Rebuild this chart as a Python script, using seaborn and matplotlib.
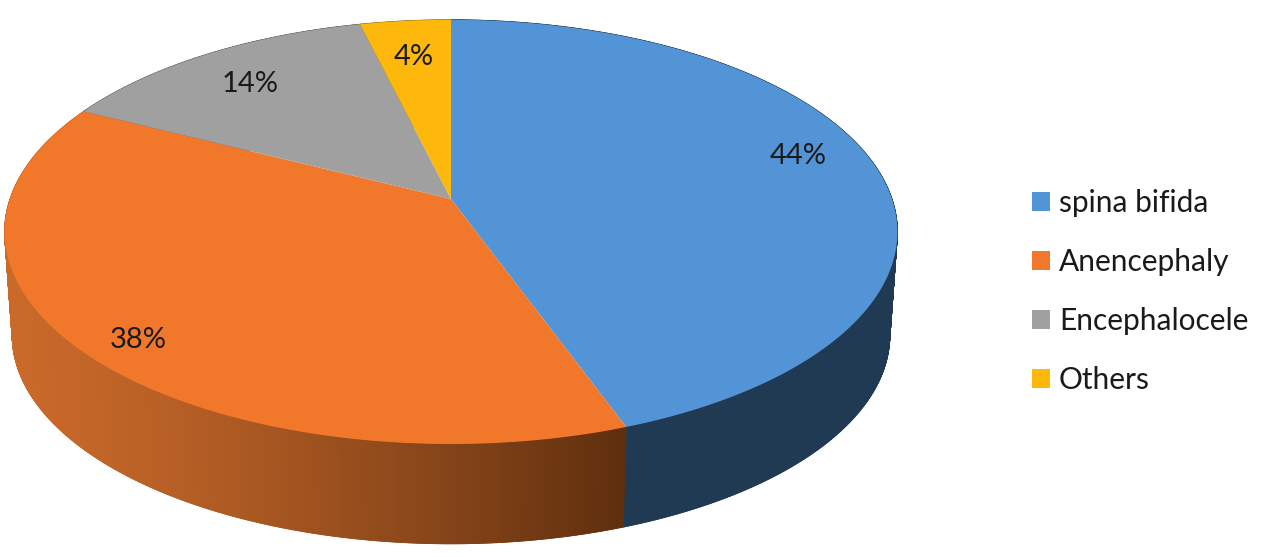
import numpy as np
import matplotlib
matplotlib.use('Agg')
import matplotlib.pyplot as plt
from matplotlib.patches import Patch
from matplotlib.colors import to_rgb
import seaborn as sns

# slice shares, printed labels are these rounded
categories = ['spina bifida', 'Anencephaly', 'Encephalocele', 'Others']
shares = [44.49, 38.0, 13.7, 3.81]
colors = ['#5294d6', '#f1772b', '#a0a0a0', '#fdb80b']
label_xy = [(798, 156), (138, 340), (250, 84), (414, 57)]

# pie geometry in image pixels
CX, CY = 451, 199
RX, RY = 441, 207
PERSP = 0.155
DEPTH = 104
BOTTOM_SCALE = 0.983

BLUE_SIDE = '#1f3a52'
ORANGE_SIDE_LEFT = '#c9692a'
ORANGE_SIDE_RIGHT = '#5f2f0e'
GRAY_SIDE = '#606060'
YELLOW_SIDE = '#987006'


def project(theta, bottom=False):
    # theta clockwise from 12 o'clock, circle -> perspective ellipse
    u, v = np.sin(theta), np.cos(theta)
    s = 1 / (1 + PERSP * v)
    if bottom:
        return CX + RX * u * s * BOTTOM_SCALE, CY + DEPTH - RY * v * s * BOTTOM_SCALE
    return CX + RX * u * s, CY - RY * v * s


def side_color(i, x):
    if i == 0:
        return BLUE_SIDE
    if i == 2:
        return GRAY_SIDE
    if i == 3:
        return YELLOW_SIDE
    t = np.clip((x - 10) / 613, 0, 1)
    a, b = np.array(to_rgb(ORANGE_SIDE_LEFT)), np.array(to_rgb(ORANGE_SIDE_RIGHT))
    return tuple(a + (b - a) * t ** 1.3)


sns.set_theme(style='white', font='Lato')
palette = sns.color_palette(colors)

fig, ax = plt.subplots(figsize=(12.8, 5.57), dpi=100)
fig.subplots_adjust(0, 0, 1, 1)
ax.set_xlim(0, 1280)
ax.set_ylim(557, 0)
ax.axis('off')

edges = np.radians(np.concatenate([[0], np.cumsum(shares)]) * 3.6)

# side wall as thin strips, top face covers the hidden ones
for i in range(len(shares)):
    th = np.arange(edges[i], edges[i + 1] + 0.004, 0.004)
    th[-1] = min(th[-1], edges[i + 1])
    for a, b in zip(th[:-1], th[1:]):
        xt0, yt0 = project(a)
        xt1, yt1 = project(b + 0.002)
        xb0, yb0 = project(a, True)
        xb1, yb1 = project(b + 0.002, True)
        ax.fill([xt0, xt1, xb1, xb0], [yt0, yt1, yb1, yb0],
                color=side_color(i, (xt0 + xt1) / 2), lw=0.6, zorder=2)

# top face
for i, color in enumerate(palette):
    th = np.linspace(edges[i], edges[i + 1], 300)
    xs, ys = project(th)
    ax.fill(np.r_[CX, xs], np.r_[CY, ys], color=color, lw=0, zorder=3)

for share, (x, y) in zip(shares, label_xy):
    ax.text(x, y, f'{share:.0f}%', ha='center', va='center', fontsize=21,
            color='#1a1a1a', zorder=4)

handles = [Patch(facecolor=c, edgecolor='none') for c in palette]
ax.legend(handles, categories, loc='center left', bbox_to_anchor=(1032 / 1280, 1 - 291.5 / 557),
          frameon=False, fontsize=21.5, labelcolor='#1a1a1a', borderpad=0, borderaxespad=0,
          handlelength=0.6, handleheight=0.6, handletextpad=0.3, labelspacing=1.04)

fig.savefig('out.png', dpi=100)
